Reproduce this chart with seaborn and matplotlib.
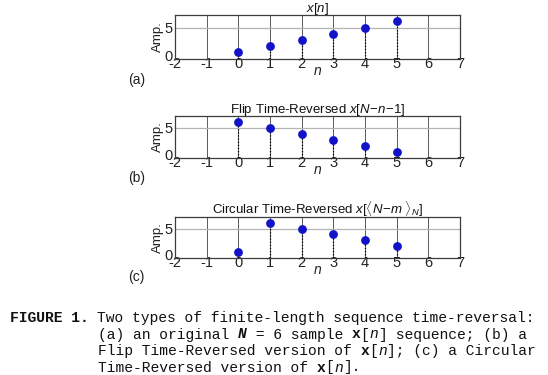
import matplotlib
matplotlib.use("Agg")
import matplotlib.pyplot as plt
import matplotlib.transforms as mtransforms
import seaborn as sns
import pandas as pd

# ---- data ----
n_vals = [0, 1, 2, 3, 4, 5]
x_orig = [1, 2, 3, 4, 5, 6]
x_flip = [6, 5, 4, 3, 2, 1]
x_circ = [1, 6, 5, 4, 3, 2]
x_ticks = [-2, -1, 0, 1, 2, 3, 4, 5, 6, 7]
y_ticks = [0, 5]
titles = [r"$x[n]$",
          r"Flip Time-Reversed $x[N\!-\!n\!-\!1]$",
          r"Circular Time-Reversed $x[\langle N\!-\!m\ \rangle_N]$"]
panel_labels = ["(a)", "(b)", "(c)"]

sns.set_style("white")
plt.rcParams['font.family'] = ['Liberation Sans', 'DejaVu Sans']
plt.rcParams['mathtext.fontset'] = 'custom'
plt.rcParams['mathtext.rm'] = 'Liberation Sans'
plt.rcParams['mathtext.it'] = 'Liberation Sans:italic'
plt.rcParams['mathtext.bf'] = 'Liberation Sans:bold'

W, H = 548, 375
fig = plt.figure(figsize=(W / 100, H / 100), dpi=100)
fig.patch.set_facecolor("white")

# axes pixel boxes: (left, top, right, bottom)
boxes = [(175, 15.3, 460, 58.7), (175, 116, 460, 157.7), (175, 217, 460, 257.7)]
series = [x_orig, x_flip, x_circ]
label_y = [80, 178, 277]

for box, vals, title, plab, ly in zip(boxes, series, titles, panel_labels, label_y):
    l, t, r, b = box
    ax = fig.add_axes([l / W, 1 - b / H, (r - l) / W, (b - t) / H])
    ax.set_xlim(-2, 7)
    ax.set_ylim(0, 7)
    ax.set_xticks(x_ticks)
    ax.set_yticks(y_ticks)
    # grid
    for xv in x_ticks[1:-1]:
        ax.axvline(xv, color="#5a5a5a", lw=0.7, zorder=0)
    ax.axhline(5, color="#b4b4b4", lw=0.9, zorder=0)
    df = pd.DataFrame({"n": n_vals, "v": vals})
    ax.vlines(df["n"], 0, df["v"], colors="black", linestyles=(0, (1, 1.5)), lw=0.9, zorder=2)
    sns.scatterplot(data=df, x="n", y="v", ax=ax, color="#1212c8", s=40,
                    edgecolor="#1212c8", linewidth=0, zorder=3, legend=False)
    for sp in ax.spines.values():
        sp.set_color("#3c3c3c")
        sp.set_linewidth(0.9)
    ax.tick_params(axis="x", labelsize=10.5, pad=-1.5, length=0, colors="#222222")
    ax.tick_params(axis="y", labelsize=10.5, pad=1.5, length=0, colors="#222222")
    ax.set_xticklabels([str(v) for v in x_ticks])
    ax.set_yticklabels([str(v) for v in y_ticks])
    # raise the "0" y tick label slightly, as in the reference
    ylab0 = ax.get_yticklabels()[0]
    ylab0.set_transform(ylab0.get_transform() +
                        mtransforms.ScaledTranslation(0, 3 / 100, fig.dpi_scale_trans))
    ax.set_xlabel(r"$n$", fontsize=10, labelpad=-4.5, color="#222222")
    ax.set_ylabel("Amp.", fontsize=9.5, labelpad=0.5, color="#222222")
    ax.set_title(title, fontsize=9.5, pad=2.5, color="#111111")
    fig.text(128 / W, 1 - ly / H, plab, fontsize=10, va="center", ha="left", color="#222222")

# ---- caption ----
mono = ['Liberation Mono', 'DejaVu Sans Mono']
fs = 10.5
cw = 0.6 * fs * 100 / 72  # char width px
N_ = ("normal", "normal")
B_ = ("bold", "normal")
BI = ("bold", "italic")
I_ = ("normal", "italic")
lines = [
    (97, 322, [("Two types of finite-length sequence time-reversal:", N_)]),
    (98, 338.5, [("(a) an original ", N_), ("N", BI), (" = 6 sample ", N_), ("x", B_), ("[", N_),
                 ("n", I_), ("]", N_), (" sequence; (b) a", N_)]),
    (98, 355, [("Flip Time-Reversed version of ", N_), ("x", B_), ("[", N_), ("n", I_),
               ("]; (c) a Circular", N_)]),
    (98, 371.5, [("Time-Reversed version of ", N_), ("x", B_), ("[", N_), ("n", I_), ("].", N_)]),
]
fig.text(10 / W, 1 - 322 / H, "FIGURE 1.", family=mono, fontsize=fs, fontweight="bold",
         va="baseline", ha="left", color="#111111")
for x0, yb, segs in lines:
    pos = x0
    for txt, (wt, st) in segs:
        fig.text(pos / W, 1 - yb / H, txt, family=mono, fontsize=fs, fontweight=wt,
                 fontstyle=st, va="baseline", ha="left", color="#111111")
        pos += len(txt) * cw

fig.savefig("out.png", dpi=100, facecolor="white")
